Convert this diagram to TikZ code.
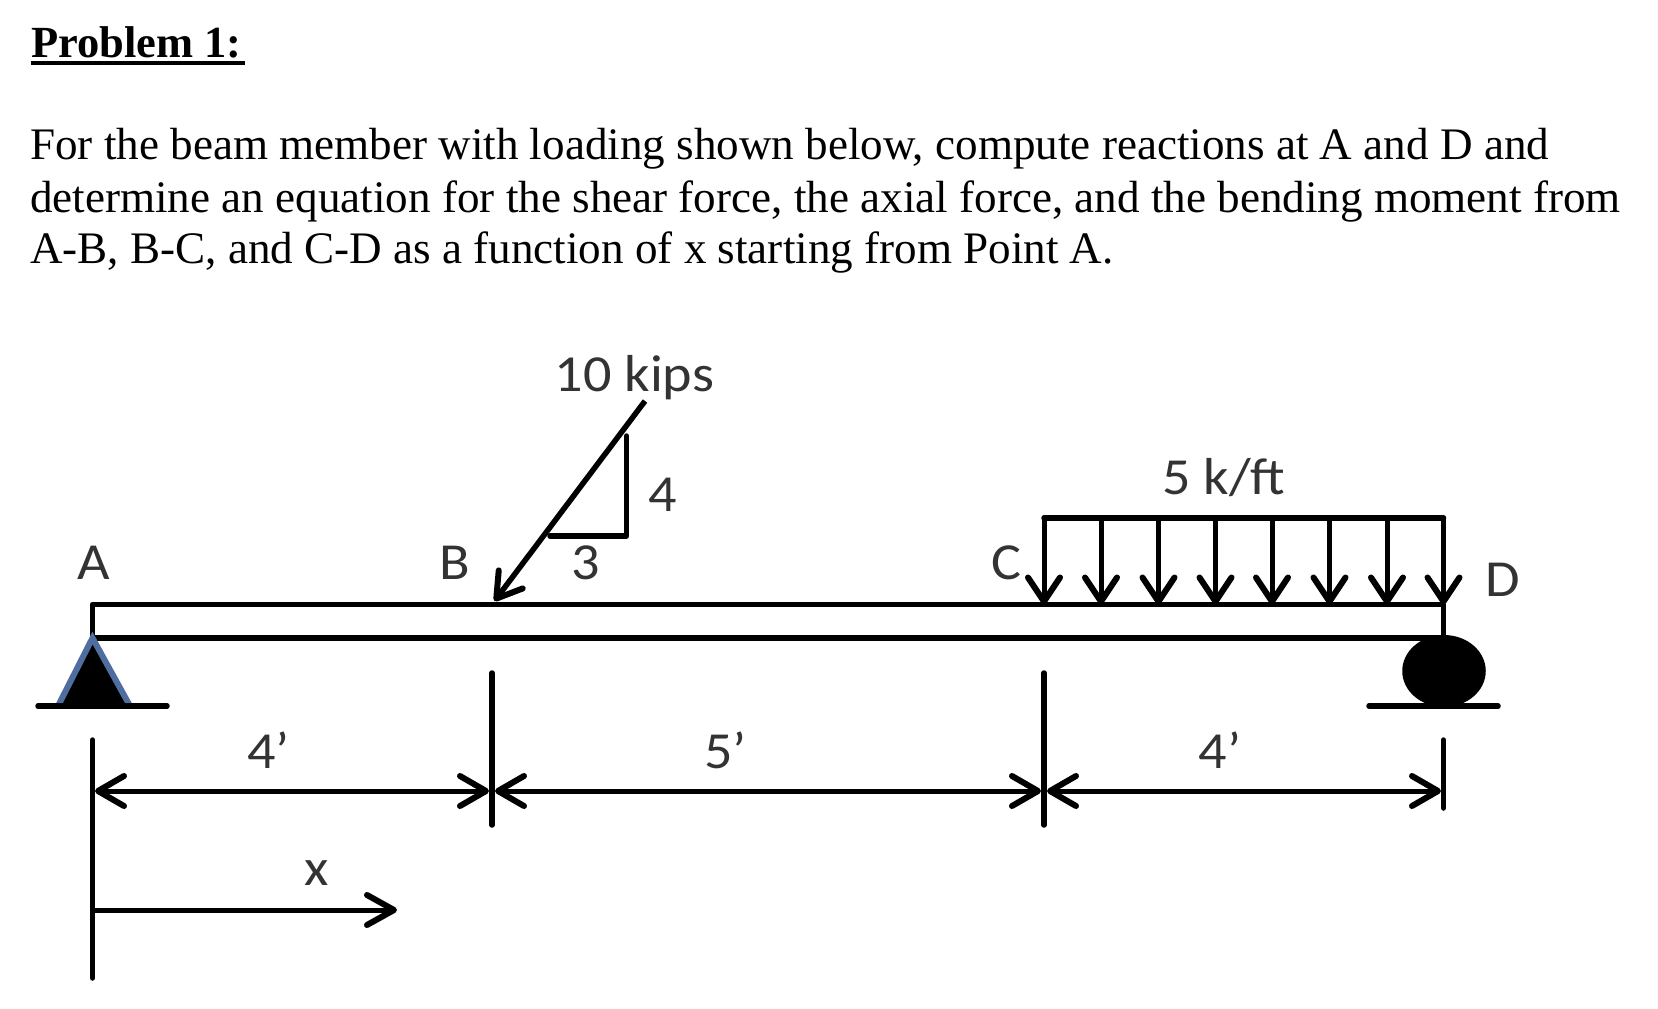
\documentclass[tikz,border=0pt]{standalone}
\usepackage{fontspec}
\setmainfont{Liberation Serif}
\newfontfamily\labelfont{Carlito}
\usepackage{tikz}
\usetikzlibrary{positioning, arrows.meta}
\definecolor{supportblue}{HTML}{4F6D9E}
\tikzset{
    prose/.style={anchor=base west, inner sep=0pt, font=\fontsize{45.1}{52}\selectfont},
    lbl/.style={inner sep=0pt, xscale=1.08, font=\labelfont\fontsize{52}{60}\selectfont, text=black!80},
    member/.style={line width=5.5pt, line cap=round, line join=round},
    dimline/.style={line width=5pt, {Straight Barb[length=26pt, width=30pt, line width=6pt, round]}-{Straight Barb[length=26pt, width=30pt, line width=6pt, round]}},
    load/.style={line width=5pt, -{Straight Barb[length=24pt, width=32pt, line width=6pt, round]}},
}
\begin{document}
\begin{tikzpicture}[x=1pt, y=-1pt]
            \useasboundingbox (0, 0) rectangle (1658, 1009);

            \node [prose, font=\fontsize{44.5}{52}\bfseries\selectfont] (title) at (31, 57) {Problem 1:};
            \node [prose] (line1) at (30, 159) {For the beam member with loading shown below, compute reactions at A and D and};
            \node [prose] (line2) at (30, 212) {determine an equation for the shear force, the axial force, and the bending moment from};
            \node [prose] (line3) at (30, 263) {A-B, B-C, and C-D as a function of x starting from Point A.};
            \draw [line width=3.5pt] (title.base west) ++(0, 6) -- ++(214, 0);

            % beam
            \coordinate (A) at (92.5, 604.5);
            \coordinate (B) at (492, 604.5);
            \coordinate (C) at (1044, 604.5);
            \coordinate (D) at (1443.5, 638);
            \draw [member] (A) rectangle (D);

            % pin at A
            \coordinate (pin) at (92.5, 638);
            \coordinate (pinL) at (58, 706);
            \coordinate (pinR) at (130, 706);
            \fill (pin) -- (pinL) -- (pinR) -- cycle;
            \draw [line width=6pt, supportblue] (pinL) -- (pin) -- (pinR);
            \coordinate (groundA1) at (38, 706);
            \coordinate (groundA2) at (167, 706);
            \draw [member] (groundA1) -- (groundA2);

            % roller at D
            \node [circle, fill, inner sep=0pt, minimum size=72pt, xscale=1.16] (roller) at (1444, 671) {};
            \coordinate (groundD1) at (1369, 706);
            \coordinate (groundD2) at (1498, 706);
            \draw [member] (groundD1) -- (groundD2);

            % 10 kip force and its slope
            \coordinate (F) at (645, 401);
            \coordinate (Ftip) at (494.5, 601);
            \draw [load, line width=5.5pt, -{Straight Barb[length=24pt, width=30pt, line width=6pt, round]}] (F) -- (Ftip);
            \coordinate (slope1) at (626.5, 436);
            \coordinate (slope2) at (626.5, 536);
            \coordinate (slope3) at (550, 536);
            \draw [member] (slope1) -- (slope2) -- (slope3);

            % distributed load
            \coordinate (P1) at (1044, 518);
            \coordinate (P2) at (1101, 518);
            \coordinate (P3) at (1158.5, 518);
            \coordinate (P4) at (1215.5, 518);
            \coordinate (P5) at (1272, 518);
            \coordinate (P6) at (1329.5, 518);
            \coordinate (P7) at (1387, 518);
            \coordinate (P8) at (1443.5, 518);
            \draw [member] (P1) -- (P8);
            \draw [load] (P1) -- (P1 |- A);
            \draw [load] (P2) -- (P2 |- A);
            \draw [load] (P3) -- (P3 |- A);
            \draw [load] (P4) -- (P4 |- A);
            \draw [load] (P5) -- (P5 |- A);
            \draw [load] (P6) -- (P6 |- A);
            \draw [load] (P7) -- (P7 |- A);
            \draw [load] (P8) -- (P8 |- A);

            % dimensions
            \coordinate (tickA1) at (92.5, 740);
            \coordinate (tickA2) at (92.5, 978);
            \coordinate (tickB1) at (492, 673);
            \coordinate (tickB2) at (492, 825);
            \coordinate (tickC1) at (1044, 673);
            \coordinate (tickC2) at (1044, 825);
            \coordinate (tickD1) at (1443.5, 740);
            \coordinate (tickD2) at (1443.5, 808);
            \draw [member] (tickA1) -- (tickA2);
            \draw [member] (tickB1) -- (tickB2);
            \draw [member] (tickC1) -- (tickC2);
            \draw [member] (tickD1) -- (tickD2);

            \coordinate (dimA) at (95, 791);
            \coordinate (dimB) at (489, 791);
            \coordinate (dimB2) at (495, 791);
            \coordinate (dimC) at (1041, 791);
            \coordinate (dimC2) at (1047, 791);
            \coordinate (dimD) at (1441, 791);
            \draw [dimline] (dimA) -- (dimB);
            \draw [dimline] (dimB2) -- (dimC);
            \draw [dimline] (dimC2) -- (dimD);

            \coordinate (xStart) at (92.5, 910);
            \coordinate (xEnd) at (397, 910);
            \draw [load, -{Straight Barb[length=27pt, width=30pt, line width=6pt, round]}] (xStart) -- (xEnd);

            % labels
            \node [lbl] (kips) at (634.5, 378) {10 kips};
            \node [lbl] (four) at (663, 495) {4};
            \node [lbl] (three) at (586, 563) {3};
            \node [lbl] (labelA) at (94, 563) {A};
            \node [lbl] (labelB) at (455, 563) {B};
            \node [lbl] (labelC) at (1006, 563) {C};
            \node [lbl] (labelD) at (1503, 580) {D};
            \node [lbl] (rate) at (1224, 478) {5 k/ft};
            \node [lbl] (spanAB) at (268.5, 750) {4’};
            \node [lbl] (spanBC) at (725.5, 750) {5’};
            \node [lbl] (spanCD) at (1220, 750) {4’};
            \node [lbl] (xlabel) at (317, 873) {x};
        \end{tikzpicture}
\end{document}
